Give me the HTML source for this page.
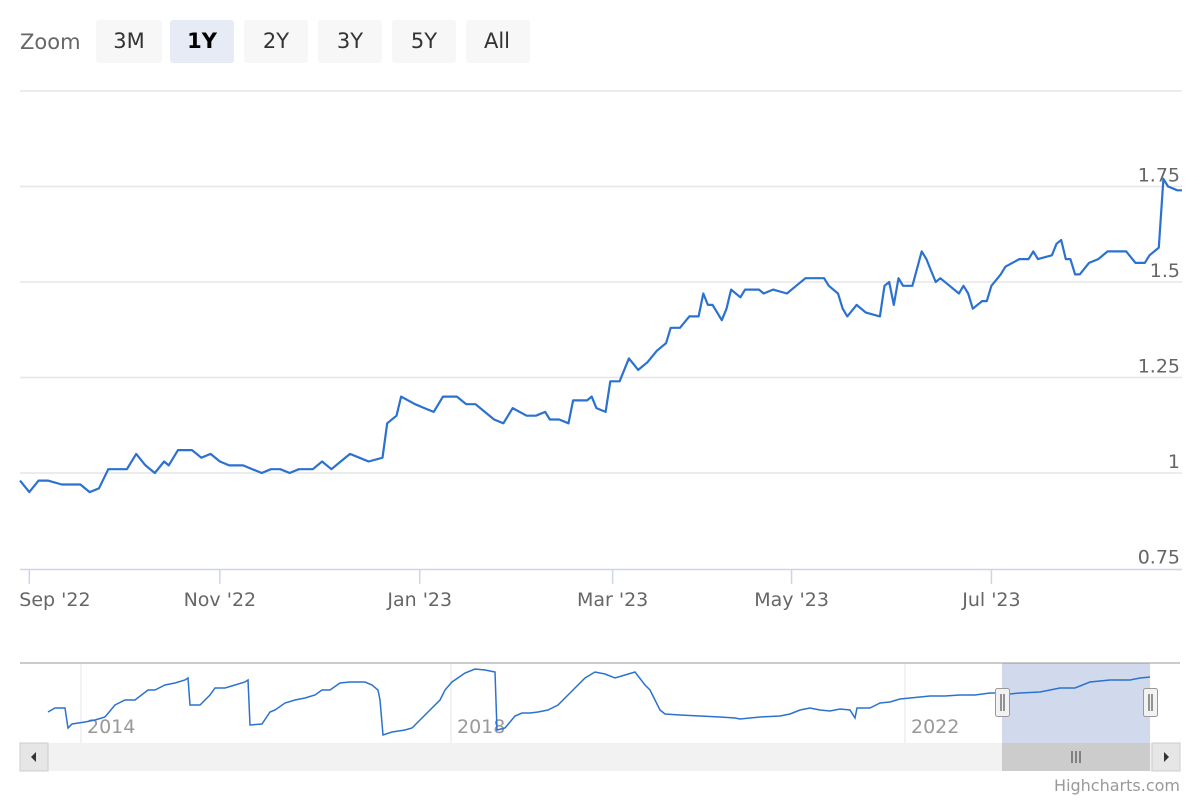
<!DOCTYPE html>
<html><head><meta charset="utf-8"><style>
body{margin:0;background:#fff;font-family:"DejaVu Sans",sans-serif}
svg text{font-family:"DejaVu Sans","Liberation Sans",sans-serif}
</style></head><body>
<svg id="c" width="1200" height="800" xmlns="http://www.w3.org/2000/svg">
<rect width="1200" height="800" fill="#fff"/>
<g>
<text x="20" y="49" font-size="21" fill="#666">Zoom</text>
<g><rect x="96" y="20" width="66" height="43" rx="3" fill="#f7f7f7"/><text x="129" y="48" font-size="21" fill="#333" text-anchor="middle">3M</text></g>
<g><rect x="170" y="20" width="64" height="43" rx="3" fill="#e6ebf5"/><text x="202" y="48" font-size="21" fill="#000" font-weight="bold" text-anchor="middle">1Y</text></g>
<g><rect x="244" y="20" width="64" height="43" rx="3" fill="#f7f7f7"/><text x="276" y="48" font-size="21" fill="#333" text-anchor="middle">2Y</text></g>
<g><rect x="318" y="20" width="64" height="43" rx="3" fill="#f7f7f7"/><text x="350" y="48" font-size="21" fill="#333" text-anchor="middle">3Y</text></g>
<g><rect x="392" y="20" width="64" height="43" rx="3" fill="#f7f7f7"/><text x="424" y="48" font-size="21" fill="#333" text-anchor="middle">5Y</text></g>
<g><rect x="466" y="20" width="64" height="43" rx="3" fill="#f7f7f7"/><text x="497" y="48" font-size="21" fill="#333" text-anchor="middle">All</text></g>
</g>
<g id="grid"></g>
<g id="ylab"></g>
<line x1="20" x2="1182" y1="569.5" y2="569.5" stroke="#ccd6eb" stroke-width="1.5"/>
<g id="xlab"></g>
<path id="main" fill="none" stroke="#2b72d0" stroke-width="2.2" stroke-linejoin="round"/>
<g>
<line x1="20" x2="1180" y1="663" y2="663" stroke="#ccc" stroke-width="2"/>
<g id="navgrid"></g>
<rect x="1002" y="663" width="148" height="80" fill="rgba(102,133,194,0.3)"/>
<path id="nav" fill="none" stroke="#2b72d0" stroke-width="1.5"/>
<g><rect x="995.5" y="688.5" width="14" height="28" rx="2" fill="#f2f2f2" stroke="#999"/><line x1="1001" x2="1001" y1="694" y2="711" stroke="#333"/><line x1="1004" x2="1004" y1="694" y2="711" stroke="#333"/></g>
<g><rect x="1143.5" y="688.5" width="14" height="28" rx="2" fill="#f2f2f2" stroke="#999"/><line x1="1149" x2="1149" y1="694" y2="711" stroke="#333"/><line x1="1152" x2="1152" y1="694" y2="711" stroke="#333"/></g>
</g>
<g>
<rect x="20" y="743" width="1160" height="28" fill="#f2f2f2"/>
<g><rect x="20" y="743" width="28" height="28" fill="#e6e6e6" stroke="#ccc"/><path d="M36 752 L31 757 L36 762Z" fill="#333"/></g>
<g><rect x="1152" y="743" width="28" height="28" fill="#e6e6e6" stroke="#ccc"/><path d="M1164 752 L1169 757 L1164 762Z" fill="#333"/></g>
<g><rect x="1002" y="743" width="148" height="28" fill="#cccccc"/><line x1="1072" x2="1072" y1="751" y2="763" stroke="#333"/><line x1="1076" x2="1076" y1="751" y2="763" stroke="#333"/><line x1="1080" x2="1080" y1="751" y2="763" stroke="#333"/></g>
</g>
<text x="1180" y="791" font-size="16" fill="#999" text-anchor="end">Highcharts.com</text>
</svg>
<script>
const tradingDay=[0,2,4,6,9,13,15,17,19,23,25,27,29,31,32,34,37,39,41,43,45,48,52,54,56,58,60,63,65,67,69,71,73,75,78,79,81,82,85,87,89,91,94,96,98,100,102,104,106,109,111,113,114,116,118,119,122,123,124,126,127,129,131,133,135,137,139,140,142,144,146,147,148,149,151,152,153,155,156,159,160,162,165,167,169,173,174,176,177,178,180,182,185,186,187,188,189,190,192,194,195,196,197,198,200,202,203,204,205,207,208,209,211,212,215,217,218,219,222,223,224,225,226,227,228,230,232,234,236,238,240,242,243,245,246,247,249,250];
const rateValue=[0.98,0.95,0.98,0.98,0.97,0.97,0.95,0.96,1.01,1.01,1.05,1.02,1.00,1.03,1.02,1.06,1.06,1.04,1.05,1.03,1.02,1.02,1.00,1.01,1.01,1.00,1.01,1.01,1.03,1.01,1.03,1.05,1.04,1.03,1.04,1.13,1.15,1.20,1.18,1.17,1.16,1.20,1.20,1.18,1.18,1.16,1.14,1.13,1.17,1.15,1.15,1.16,1.14,1.14,1.13,1.19,1.19,1.20,1.17,1.16,1.24,1.24,1.30,1.27,1.29,1.32,1.34,1.38,1.38,1.41,1.41,1.47,1.44,1.44,1.40,1.43,1.48,1.46,1.48,1.48,1.47,1.48,1.47,1.49,1.51,1.51,1.49,1.47,1.43,1.41,1.44,1.42,1.41,1.49,1.50,1.44,1.51,1.49,1.49,1.58,1.56,1.53,1.50,1.51,1.49,1.47,1.49,1.47,1.43,1.45,1.45,1.49,1.52,1.54,1.56,1.56,1.58,1.56,1.57,1.60,1.61,1.56,1.56,1.52,1.52,1.55,1.56,1.58,1.58,1.58,1.55,1.55,1.57,1.59,1.77,1.75,1.74,1.74];
const yTicks=[0.75,1,1.25,1.5,1.75,2];
const yTickLabels=["0.75","1","1.25","1.5","1.75",""];
const xTickDays=[2,43,86,127.5,166,209];
const xTickLabels=["Sep '22","Nov '22","Jan '23","Mar '23","May '23","Jul '23"];
const navWeek=[0,7,17,20,24,37,47,57,67,77,87,100,107,117,127,137,140,142,152,162,167,177,187,197,200,202,214,222,227,237,247,257,267,274,282,292,302,317,324,330,332,335,344,357,364,372,382,392,397,404,417,427,437,447,449,457,467,474,482,490,500,510,517,527,537,547,557,567,577,587,597,602,612,617,632,652,672,687,692,712,732,742,752,762,772,782,792,802,807,809,822,832,842,852,862,872,882,897,912,927,942,954,962,972,992,1012,1027,1042,1062,1082,1092,1102];
const navValue=[0.05,0.25,0.25,-0.75,-0.55,-0.45,-0.35,-0.2,0.4,0.65,0.65,1.15,1.15,1.4,1.5,1.65,1.75,0.4,0.4,0.9,1.25,1.25,1.4,1.55,1.65,-0.6,-0.55,0.05,0.15,0.5,0.65,0.75,0.9,1.15,1.15,1.5,1.55,1.55,1.4,1.15,0.65,-1.1,-0.95,-0.85,-0.75,-0.35,0.15,0.65,1.15,1.55,2.0,2.2,2.15,2.05,-0.85,-0.75,-0.15,0,0,0.05,0.15,0.4,0.75,1.25,1.75,2.05,1.95,1.75,1.9,2.05,1.4,1.15,0.15,-0.05,-0.1,-0.15,-0.2,-0.25,-0.3,-0.2,-0.15,-0.05,0.15,0.25,0.15,0.1,0.2,0.15,-0.25,0.25,0.25,0.5,0.55,0.7,0.75,0.8,0.85,0.85,0.9,0.9,1.0,1.0,0.95,1.0,1.05,1.25,1.25,1.55,1.65,1.65,1.75,1.8];
const navYears=["2014","2018","2022"];
const navYearWeek=[33,403,857];

const NS="http://www.w3.org/2000/svg";
const X=d=>20+(d/250)*1162;
const Y=v=>473-(v-1)*382;
const NX=w=>48+w;
const NY=v=>693-(v-1)*20;
function mk(tag,attrs,parent){const e=document.createElementNS(NS,tag);for(const k in attrs)e.setAttribute(k,attrs[k]);parent.appendChild(e);return e;}
const grid=document.getElementById('grid'),ylab=document.getElementById('ylab'),xlab=document.getElementById('xlab');
yTicks.forEach((v,i)=>{
  if(v>0.75){const l=mk('line',{x1:20,x2:1182,y1:Y(v),y2:Y(v),stroke:'#e6e6e6','stroke-width':1.5},grid);
  
  }
  if(yTickLabels[i]){const t=mk('text',{x:1180,y:Y(v)-5,'font-size':19,fill:'#666','text-anchor':'end'},ylab);t.textContent=yTickLabels[i];
  
  }
});
xTickDays.forEach((d,i)=>{
  const l=mk('line',{x1:X(d),x2:X(d),y1:570,y2:584,stroke:'#ccd6eb','stroke-width':1.5},xlab);
  
  
  const t=mk('text',{x:X(d)+(i==0?-10:0),y:606,'font-size':19,fill:'#666','text-anchor':i==0?'start':'middle'},xlab);t.textContent=xTickLabels[i];
  
  
});
document.getElementById('main').setAttribute('d',tradingDay.map((d,i)=>(i?'L':'M')+X(d).toFixed(1)+' '+Y(rateValue[i]).toFixed(1)).join(''));
const ng=document.getElementById('navgrid');
navYears.forEach((y,i)=>{
  const x=NX(navYearWeek[i]);
  const l=mk('line',{x1:x,x2:x,y1:664,y2:743,stroke:'#e6e6e6'},ng);
  
  
  const t=mk('text',{x:x+6,y:733,'font-size':19,fill:'#999'},ng);t.textContent=y;
  
  
});
document.getElementById('nav').setAttribute('d',navWeek.map((w,i)=>(i?'L':'M')+NX(w).toFixed(1)+' '+NY(navValue[i]).toFixed(1)).join(''));
</script>
</body></html>
